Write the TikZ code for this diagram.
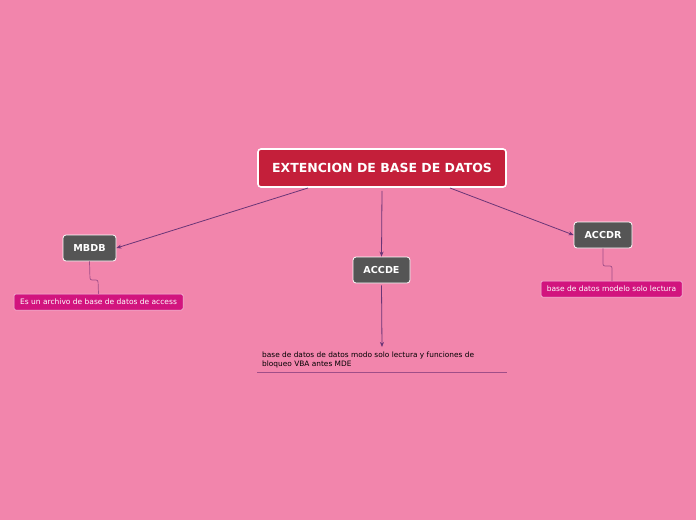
\documentclass[tikz,border=0pt]{standalone}
\usepackage{fontspec}
\setmainfont{DejaVu Sans}
\usetikzlibrary{arrows.meta}
\definecolor{bg}{HTML}{F285AC}
\definecolor{mainred}{HTML}{C41F3A}
\definecolor{darkgray}{HTML}{555555}
\definecolor{magenta}{HTML}{D2147E}
\definecolor{conn}{HTML}{6A3577}
\definecolor{subconn}{HTML}{A04E88}
\tikzset{
  x=1pt,y=-1pt,
  mainbox/.style={draw=white,line width=1.6pt,fill=mainred,rounded corners=3pt,text=white,font=\bfseries\fontsize{12.5}{14}\selectfont,minimum width=248pt,minimum height=38pt,inner sep=0pt},
  topic/.style={draw=white,line width=0.8pt,fill=darkgray,rounded corners=3pt,text=white,font=\bfseries\fontsize{9.6}{11}\selectfont,minimum height=26pt,inner sep=0pt},
  note/.style={draw=white!80!magenta,line width=0.5pt,fill=magenta,rounded corners=1.5pt,text=white,font=\fontsize{7.5}{8}\selectfont,minimum height=16pt,inner sep=0pt},
  arr/.style={draw=conn,line width=0.8pt,-{Stealth[length=5pt,width=4pt]}},
  sub/.style={draw=subconn,line width=0.7pt,rounded corners=2pt},
}
\begin{document}
\begin{tikzpicture}
\fill[bg] (0,0) rectangle (696,520);
\useasboundingbox (0,0) rectangle (696,520);
\node[mainbox] (main) at (382,168) {EXTENCION DE BASE DE DATOS};
\node[topic,minimum width=53pt] (mbdb) at (89.5,248) {MBDB};
\node[topic,minimum width=57pt] (accde) at (381.5,270) {ACCDE};
\node[topic,minimum width=58pt] (accdr) at (603,235) {ACCDR};
\node[note,minimum width=169pt] (n1) at (98.5,302) {Es un archivo de base de datos de access};
\node[note,minimum width=141pt] (n3) at (611.5,289) {base de datos modelo solo lectura};
\coordinate (t2) at (382,347);
\node[anchor=north west,inner sep=0pt,align=left,font=\fontsize{7.4}{9}\selectfont,text=black] (n2) at (262,351.5) {base de datos de datos modo solo lectura y funciones de\\bloqueo VBA antes MDE};
\coordinate (u1) at (257,372);
\coordinate (u2) at (507,372);
\draw[arr] (308,188) -- (mbdb.east);
\draw[arr] (main.south) ++(0,3) -- (accde.north);
\draw[arr] (450,188) -- (accdr.west);
\draw[arr] (accde.south) ++(0,2) -- (t2);
\draw[subconn,line width=0.7pt] (u1) -- (u2);
\draw[sub] (mbdb.south) -- (90,280) -- (98,280) -- (n1.north);
\draw[sub] (accdr.south) -- (603,266) -- (612,266) -- (612,281);
\end{tikzpicture}
\end{document}
